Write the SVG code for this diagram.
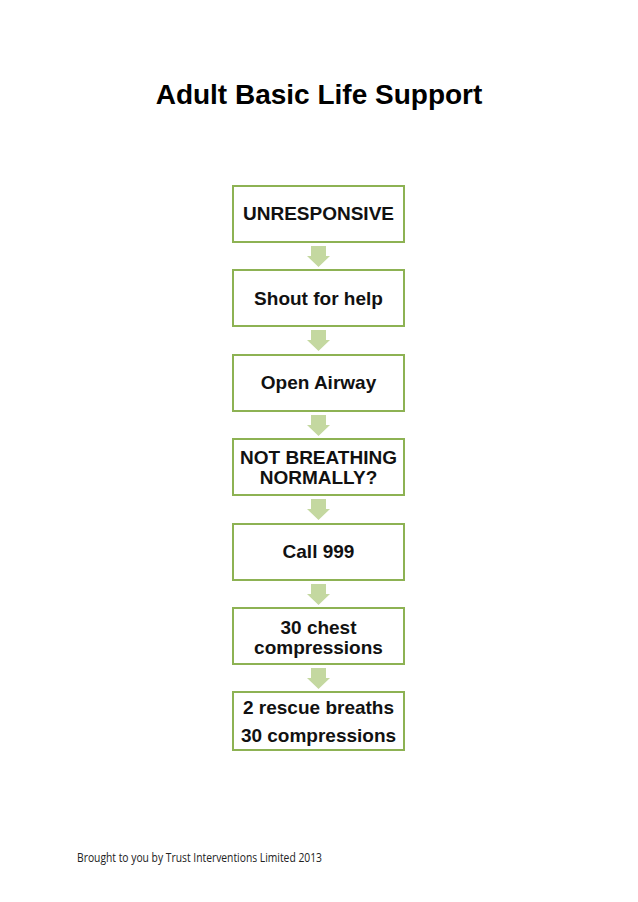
<svg xmlns="http://www.w3.org/2000/svg" width="638" height="902" viewBox="0 0 638 902">
<style>
.box{fill:#ffffff;stroke:#8DB253;stroke-width:2}
.lbl{font-family:"Liberation Sans",Arial,sans-serif;font-weight:bold;font-size:19px;fill:#111;text-anchor:middle}
.arr{fill:#C4D8A0}
</style>
<rect width="638" height="902" fill="#ffffff"/>
<text x="319" y="104" font-family="Liberation Sans, Arial, sans-serif" font-weight="bold" font-size="28" fill="#000" text-anchor="middle">Adult Basic Life Support</text>
<g id="connectors">
<polygon class="arr" points="311,246 326,246 326,256 330,256 318.5,267 307,256 311,256"/>
<polygon class="arr" points="311,330 326,330 326,340 330,340 318.5,351 307,340 311,340"/>
<polygon class="arr" points="311,415 326,415 326,425 330,425 318.5,436 307,425 311,425"/>
<polygon class="arr" points="311,499 326,499 326,509 330,509 318.5,520 307,509 311,509"/>
<polygon class="arr" points="311,584 326,584 326,594 330,594 318.5,605 307,594 311,594"/>
<polygon class="arr" points="311,668 326,668 326,678 330,678 318.5,689 307,678 311,678"/>
</g>
<g id="n1"><rect class="box" x="233" y="186" width="171" height="56"/><text class="lbl" x="318.5" y="220">UNRESPONSIVE</text></g>
<g id="n2"><rect class="box" x="233" y="270" width="171" height="56"/><text class="lbl" x="318.5" y="305">Shout for help</text></g>
<g id="n3"><rect class="box" x="233" y="355" width="171" height="56"/><text class="lbl" x="318.5" y="389">Open Airway</text></g>
<g id="n4"><rect class="box" x="233" y="439" width="171" height="56"/><text class="lbl" x="318.5" y="464">NOT BREATHING</text><text class="lbl" x="318.5" y="484">NORMALLY?</text></g>
<g id="n5"><rect class="box" x="233" y="524" width="171" height="56"/><text class="lbl" x="318.5" y="558">Call 999</text></g>
<g id="n6"><rect class="box" x="233" y="608" width="171" height="56"/><text class="lbl" x="318.5" y="634">30 chest</text><text class="lbl" x="318.5" y="654">compressions</text></g>
<g id="n7"><rect class="box" x="233" y="692" width="171" height="58"/><text class="lbl" x="318.5" y="714">2 rescue breaths</text><text class="lbl" x="318.5" y="742">30 compressions</text></g>
<text x="77" y="862" font-family="Open Sans, Noto Sans, sans-serif" font-size="12.5" fill="#222" textLength="245" lengthAdjust="spacingAndGlyphs">Brought to you by Trust Interventions Limited 2013</text>
</svg>
